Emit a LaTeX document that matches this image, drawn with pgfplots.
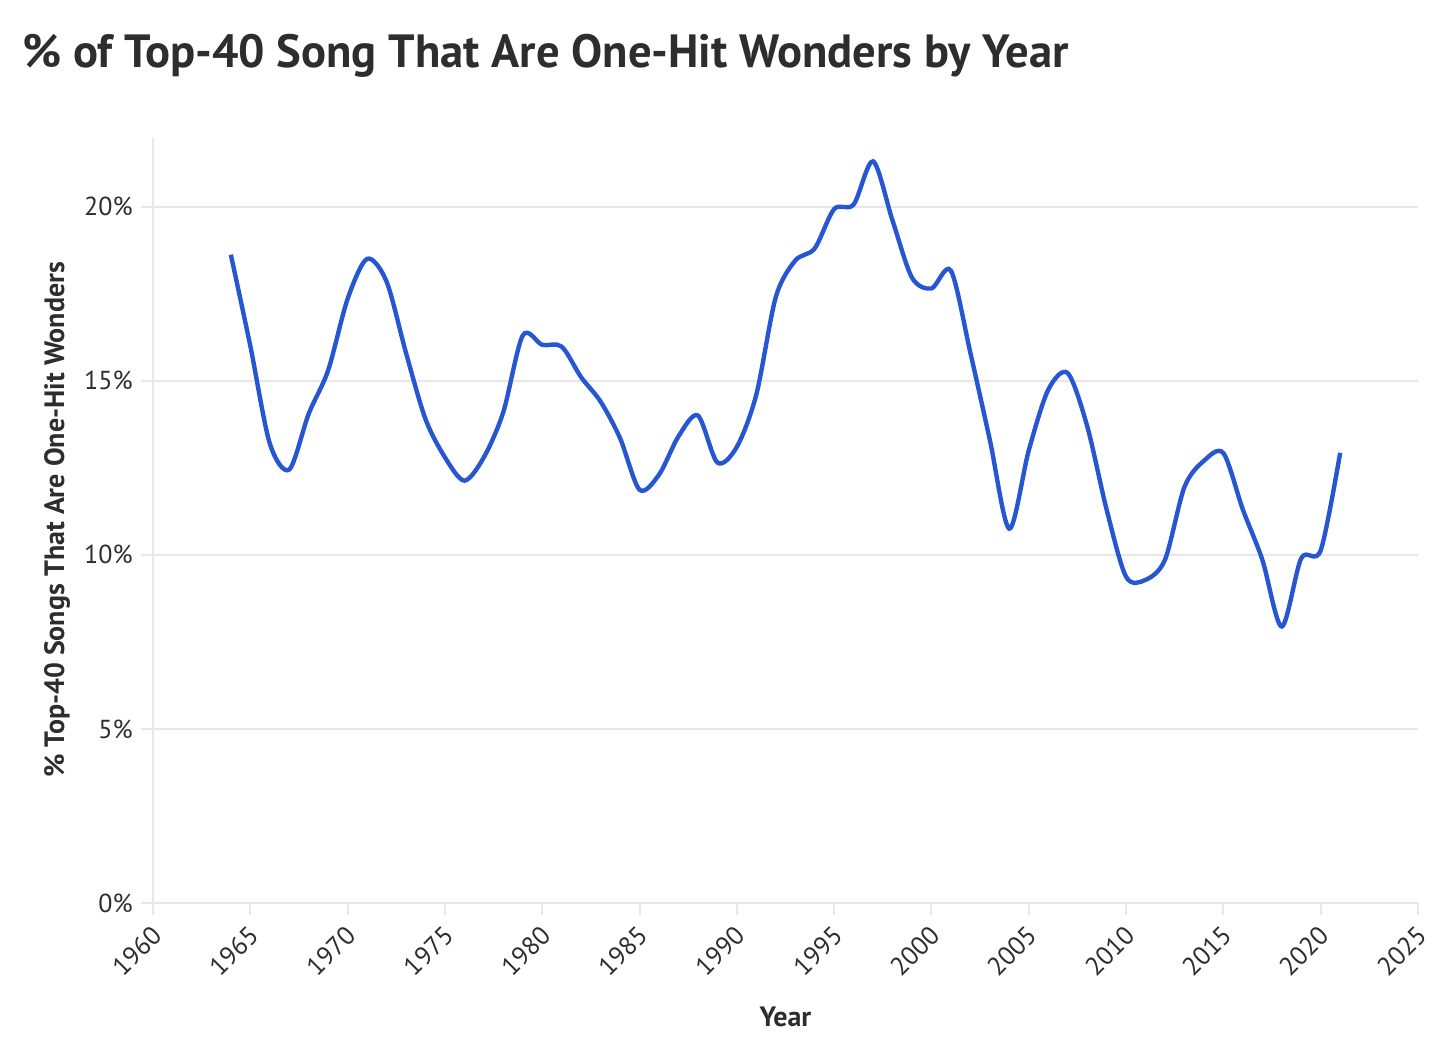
\documentclass[border=0pt]{standalone}
\usepackage{fontspec}
\setmainfont{PT Sans}
\usepackage{pgfplots}
\pgfplotsset{compat=1.18}

\definecolor{linecol}{RGB}{38,86,210}
\definecolor{gridcol}{RGB}{232,232,232}
\definecolor{txtcol}{RGB}{45,45,45}

\begin{document}
\begin{tikzpicture}
	\path[use as bounding box] (-76.5bp,-74.5bp) rectangle (651.5bp,451.5bp);
	\begin{axis}[
		scale only axis,
		width=632.5bp, height=383bp,
		xmin=1960, xmax=2025,
		ymin=0, ymax=22,
		axis x line*=bottom, axis y line*=left,
		axis line style={gridcol, line width=1pt, -},
		xtick={1960,1965,...,2025},
		ytick={0,5,10,15,20},
		yticklabels={0\%,5\%,10\%,15\%,20\%},
		tick align=outside,
		major tick length=6bp,
		tick style={gridcol, line width=1pt},
		ymajorgrids,
		grid style={gridcol, line width=1pt},
		/pgf/number format/1000 sep={},
		/pgf/number format/assume math mode=true,
		tick label style={font=\fontsize{13bp}{15bp}\selectfont, text=txtcol},
		y tick label style={inner sep=0pt, xshift=-4bp},
		x tick label style={inner sep=0pt, xshift=2bp, yshift=-8bp, rotate=45, anchor=east},
		clip=false,
	]
		\addplot[linecol, line width=2.2bp, smooth, tension=0.5] coordinates {
			(1964,18.62) (1965,16.0) (1966,13.2) (1967,12.45) (1968,14.05)
			(1969,15.3) (1970,17.35) (1971,18.5) (1972,17.85) (1973,15.8)
			(1974,13.9) (1975,12.8) (1976,12.13) (1977,12.8) (1978,14.1)
			(1979,16.3) (1980,16.03) (1981,15.98) (1982,15.1) (1983,14.4)
			(1984,13.35) (1985,11.87) (1986,12.3) (1987,13.4) (1988,14.0)
			(1989,12.65) (1990,13.1) (1991,14.6) (1992,17.4) (1993,18.45)
			(1994,18.8) (1995,19.93) (1996,20.06) (1997,21.3) (1998,19.6)
			(1999,17.96) (2000,17.65) (2001,18.16) (2002,15.8) (2003,13.3)
			(2004,10.75) (2005,13.0) (2006,14.74) (2007,15.22) (2008,13.7)
			(2009,11.3) (2010,9.37) (2011,9.28) (2012,9.86) (2013,11.95)
			(2014,12.7) (2015,12.92) (2016,11.3) (2017,9.86) (2018,7.94)
			(2019,9.9) (2020,10.13) (2021,12.93)
		};
	\end{axis}
	% title and axis labels
	\node[anchor=base west, inner sep=0pt, text=txtcol, font=\fontsize{23.3bp}{28bp}\selectfont\bfseries]
		at (-65.5bp,417.5bp) {\% of Top-40 Song That Are One-Hit Wonders by Year};
	\node[rotate=90, inner sep=0pt, text=txtcol, font=\fontsize{14bp}{16bp}\selectfont\bfseries]
		at (-48bp,191.5bp) {\% Top-40 Songs That Are One-Hit Wonders};
	\node[inner sep=0pt, text=txtcol, font=\fontsize{14bp}{16bp}\selectfont\bfseries]
		at (316.25bp,-57bp) {Year};
\end{tikzpicture}
\end{document}
